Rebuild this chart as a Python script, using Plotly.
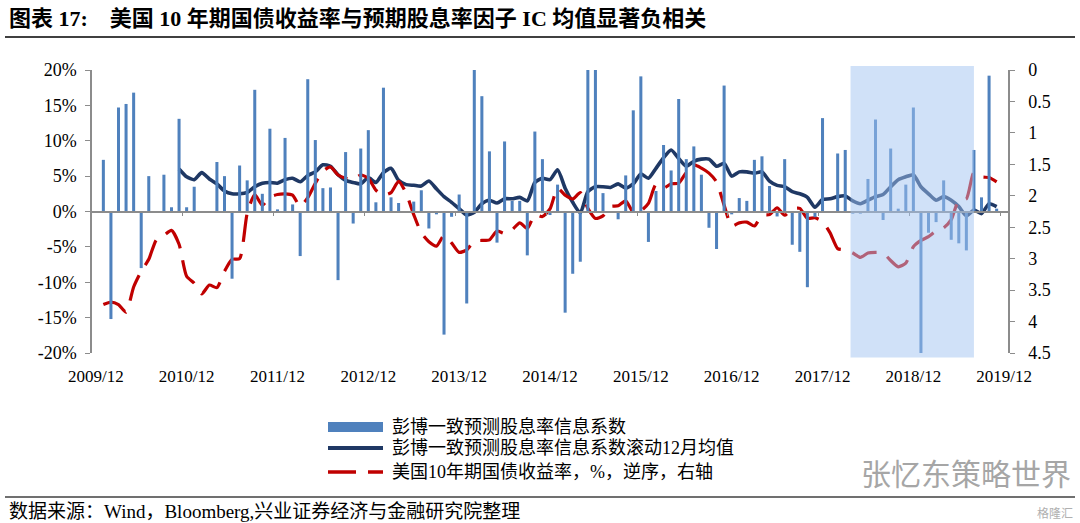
import plotly.graph_objects as go

# ---------------- data ----------------
# monthly categories 2009/12 ... 2019/12
months = []
for i in range(121):
    yy = 2009 + (11 + i) // 12
    mm = (11 + i) % 12 + 1
    months.append(f"{yy}/{mm:02d}")
tick_labels = ["2009/12", "2010/12", "2011/12", "2012/12", "2013/12", "2014/12",
               "2015/12", "2016/12", "2017/12", "2018/12", "2019/12"]

# 彭博一致预测股息率信息系数 (%)
ic_monthly = [None,
    7.3, -15.2, 14.7, 15.2, 16.8, -8.0, 5.0, -0.1, 5.2, 0.6, 13.1, 0.6,
    3.5, -0.1, -0.1, 7.0, 5.0, -9.5, 6.5, 4.4, 17.2, 2.5, 11.7, 0.3,
    10.4, 1.0, -6.3, 18.7, 10.1, 3.3, 3.4, -9.7, 8.4, -1.7, 8.9, 11.5,
    1.3, 17.5, 2.0, 1.2, 0.0, 1.4, 3.0, -2.4, -0.4, -17.4, -0.75, 2.4,
    -13.0, 20.0, 16.3, 8.5, -4.4, 9.9, 1.5, 1.5, -6.2, 11.3, 7.4, -0.5,
    3.8, -14.3, -8.8, -7.1, 20.0, 20.0, 2.6, 0.0, -1.1, 5.1, 14.3, 19.1,
    -4.3, 2.9, 9.4, 5.8, 15.9, 7.4, 9.2, 5.2, -2.3, -5.3, 17.8, -0.4,
    1.9, 1.5, 7.3, 7.8, 3.6, -0.7, 7.4, -4.7, -5.7, -10.7, -0.8, 13.2,
    0.0, 8.2, 8.7, -0.3, -0.3, 4.6, 13.0, -1.2, 8.9, 0.4, 3.8, 14.7,
    -20.0, -3.0, -1.5, 4.4, -4.0, -4.5, -5.5, 8.7, 2.0, 19.2, 0.4,
    None]

# 彭博一致预测股息率信息系数滚动12月均值 (%)
ic_ma12 = [None] * 11 + [
    6.0, 4.9,
    4.5, 5.5, 4.6, 3.9, 2.9, 2.5, 2.5, 2.7, 3.5, 4.0, 4.1, 4.0,
    4.5, 4.7, 4.2, 5.1, 5.6, 6.6, 6.4, 5.2, 4.4, 4.1, 3.9, 4.8,
    4.1, 5.5, 6.1, 4.4, 3.8, 3.7, 3.6, 4.3, 3.2, 2.1, 1.3, 0.4,
    -0.5, -0.1, 1.1, 1.6, 1.2, 1.8, 1.8, 2.0, 1.5, 4.1, 4.7, 4.5,
    5.9, 3.3, 1.3, -0.2, 2.8, 3.5, 3.5, 3.4, 3.9, 3.3, 3.9, 5.3,
    4.7, 6.1, 7.6, 8.7, 7.5, 6.4, 7.1, 7.4, 7.4, 6.4, 6.8, 5.0,
    5.6, 5.6, 5.4, 5.6, 4.3, 3.7, 3.5, 2.8, 2.5, 2.0, 0.6, 1.7,
    1.8, 2.1, 2.2, 1.5, 1.1, 1.6, 2.1, 2.4, 3.5, 4.5, 4.9, 5.2,
    3.5, 2.5, 1.6, 2.1, 1.6, 0.7, -0.6, 0.2, -0.3, 1.1, 0.7,
    None]

# 美国10年期国债收益率 (%), right axis reversed
ust10y = [None,
    3.73, 3.69, 3.73, 3.85, 3.45, 3.20, 3.01, 2.70, 2.63, 2.55, 2.77, 3.28,
    3.39, 3.56, 3.42, 3.46, 3.20, 3.01, 3.00, 2.28, 1.98, 2.15, 2.02, 1.98,
    1.97, 1.99, 2.17, 2.03, 1.80, 1.61, 1.54, 1.67, 1.72, 1.74, 1.67, 1.72,
    1.91, 1.99, 1.95, 1.77, 1.96, 2.30, 2.59, 2.73, 2.80, 2.63, 2.75, 2.90,
    2.86, 2.72, 2.71, 2.70, 2.56, 2.60, 2.54, 2.43, 2.52, 2.30, 2.33, 2.21,
    1.88, 1.99, 2.05, 1.95, 2.20, 2.36, 2.32, 2.17, 2.16, 2.08, 2.26, 2.24,
    2.12, 1.82, 1.88, 1.81, 1.80, 1.63, 1.51, 1.56, 1.64, 1.78, 2.15, 2.48,
    2.43, 2.42, 2.48, 2.31, 2.30, 2.19, 2.31, 2.21, 2.20, 2.36, 2.35, 2.41,
    2.59, 2.84, 2.86, 2.91, 2.98, 2.91, 2.90, 2.91, 3.03, 3.13, 3.07, 2.81,
    2.71, 2.65, 2.56, 2.51, 2.38, 2.07, 2.05, 1.63, 1.70, 1.71, 1.78,
    None]

left_ticks = [-20, -15, -10, -5, 0, 5, 10, 15, 20]
left_tick_text = ["-20%", "-15%", "-10%", "-5%", "0%", "5%", "10%", "15%", "20%"]
right_ticks = [0, 0.5, 1, 1.5, 2, 2.5, 3, 3.5, 4, 4.5]
right_tick_text = ["0", "0.5", "1", "1.5", "2", "2.5", "3", "3.5", "4", "4.5"]

name_bar = "彭博一致预测股息率信息系数"
name_ma = "彭博一致预测股息率信息系数滚动12月均值"
name_ust = "美国10年期国债收益率，%，逆序，右轴"

# highlighted period (category positions)
hl_start, hl_end = 99.7, 116.0

# ---------------- styles ----------------
C_BAR = "#4F81BD"
C_MA = "#1F3864"
C_UST = "#C00000"
UST_DASH = "27px,12px"
SERIF = "Liberation Serif, Noto Sans CJK SC, serif"
AX = "#8C8C8C"
NB = "\u00a0"

# plot area in pixels: x 92..1008, y 70..353
L, R, T, B = 92, 1008, 70, 353
def px(xp):
    return (xp - L) / (R - L)
def py(yp):
    return (B - yp) / (B - T)

# ---------------- figure ----------------
x = list(range(len(months)))
label_pos = [i for i, m in enumerate(months) if m in tick_labels]
sep_pos = [p - 0.5 for p in label_pos[1:]]

fig = go.Figure()
fig.add_trace(go.Bar(x=x, y=ic_monthly, xaxis="x2", yaxis="y",
                     marker=dict(color=C_BAR, line=dict(width=0)),
                     width=0.4, showlegend=False, name=name_bar))
fig.add_trace(go.Scatter(x=x, y=ic_ma12, mode="lines", name=name_ma, showlegend=False,
                         line=dict(color=C_MA, width=3.6, shape="spline", smoothing=0.6)))
fig.add_trace(go.Scatter(x=x, y=ust10y, mode="lines", name=name_ust, yaxis="y2",
                         showlegend=False,
                         line=dict(color=C_UST, width=3.2, dash=UST_DASH,
                                   shape="spline", smoothing=0.6)))

title_text = ("<b>图表" + NB + "17:" + NB * 4 + "美国" + NB + "10" + NB + "年期国债收益率与预期股息率因子"
              + NB + "IC" + NB + "均值显著负相关</b>")

fig.update_layout(
    width=1080, height=523,
    margin=dict(l=L, r=1080 - R, t=T, b=523 - B),
    paper_bgcolor="white", plot_bgcolor="white",
    font=dict(family=SERIF, size=17, color="black"),
    showlegend=False,
    title=dict(text=title_text,
               xref="container", yref="container", x=9 / 1080, y=1 - 18 / 523,
               xanchor="left", yanchor="middle",
               font=dict(family=SERIF, size=22, color="black")),
    xaxis=dict(range=[-0.5, 120.5], tickvals=label_pos, ticktext=tick_labels,
               showline=False, ticks="", showgrid=False, zeroline=False,
               ticklabelstandoff=11,
               tickfont=dict(family=SERIF, size=17, color="black")),
    xaxis2=dict(overlaying="x", anchor="free", position=0.5, side="bottom",
                range=[-0.5, 120.5], tickvals=sep_pos, showticklabels=False,
                showline=True, linecolor=AX, linewidth=1.5,
                ticks="outside", ticklen=4, tickcolor=AX, tickwidth=1.2,
                showgrid=False, zeroline=False),
    yaxis=dict(range=[-20, 20], tickvals=left_ticks, ticktext=left_tick_text,
               showline=True, linecolor=AX, linewidth=1.5,
               ticks="outside", ticklen=5, tickcolor=AX, tickwidth=1.2,
               showgrid=False, zeroline=False, ticklabelstandoff=5,
               tickfont=dict(family=SERIF, size=18, color="black")),
    yaxis2=dict(overlaying="y", side="right", range=[4.5, 0],
                tickvals=right_ticks, ticktext=right_tick_text,
                showline=True, linecolor=AX, linewidth=1.5,
                ticks="outside", ticklen=5, tickcolor=AX, tickwidth=1.2,
                showgrid=False, zeroline=False, ticklabelstandoff=10,
                tickfont=dict(family=SERIF, size=18, color="black")),
)

# highlighted period
fig.add_shape(type="rect", xref="x", yref="paper", x0=hl_start, x1=hl_end,
              y0=py(357.5), y1=py(66), fillcolor="rgb(161,195,241)", opacity=0.5,
              line=dict(width=0), layer="above")
# title underline and footer line
fig.add_shape(type="line", xref="paper", yref="paper", x0=px(5), x1=px(1075),
              y0=py(37), y1=py(37), line=dict(color="#404040", width=2))
fig.add_shape(type="line", xref="paper", yref="paper", x0=px(5), x1=px(1075),
              y0=py(497), y1=py(497), line=dict(color="#404040", width=1.5))

# legend (drawn manually to match the source layout)
sym_x0, sym_x1, txt_x = px(328), px(383), px(390)
rows = [py(427), py(448), py(472)]
fig.add_shape(type="rect", xref="paper", yref="paper", x0=sym_x0, x1=sym_x1,
              y0=rows[0] - 5 / (B - T), y1=rows[0] + 5 / (B - T),
              fillcolor=C_BAR, line=dict(width=0))
fig.add_shape(type="line", xref="paper", yref="paper", x0=sym_x0, x1=sym_x1,
              y0=rows[1], y1=rows[1], line=dict(color=C_MA, width=4))
fig.add_shape(type="line", xref="paper", yref="paper", x0=sym_x0, x1=sym_x1,
              y0=rows[2], y1=rows[2], line=dict(color=C_UST, width=3.5, dash="28px,12px"))
for name, yy in zip([name_bar, name_ma, name_ust], rows):
    fig.add_annotation(text=name, xref="paper", yref="paper", x=txt_x, y=yy,
                       xanchor="left", yanchor="middle", showarrow=False,
                       font=dict(family=SERIF, size=18, color="black"))

fig.add_annotation(text="数据来源：Wind，Bloomberg,兴业证券经济与金融研究院整理",
                   xref="paper", yref="paper", x=px(7), y=py(511),
                   xanchor="left", yanchor="middle", showarrow=False,
                   font=dict(family=SERIF, size=19, color="black"))
fig.add_annotation(text="张忆东策略世界", xref="paper", yref="paper",
                   x=px(966), y=py(472), xanchor="center", yanchor="middle", showarrow=False,
                   font=dict(family="Noto Sans CJK SC", size=30, color="#A6A6A6"))
fig.add_annotation(text="格隆汇", xref="paper", yref="paper",
                   x=px(1055), y=py(512), xanchor="center", yanchor="middle", showarrow=False,
                   font=dict(family="Noto Sans CJK SC", size=12, color="#B0B0B0"))

fig.write_html("out.html", config={"displayModeBar": False},
               post_script="document.body.style.margin='0';")
